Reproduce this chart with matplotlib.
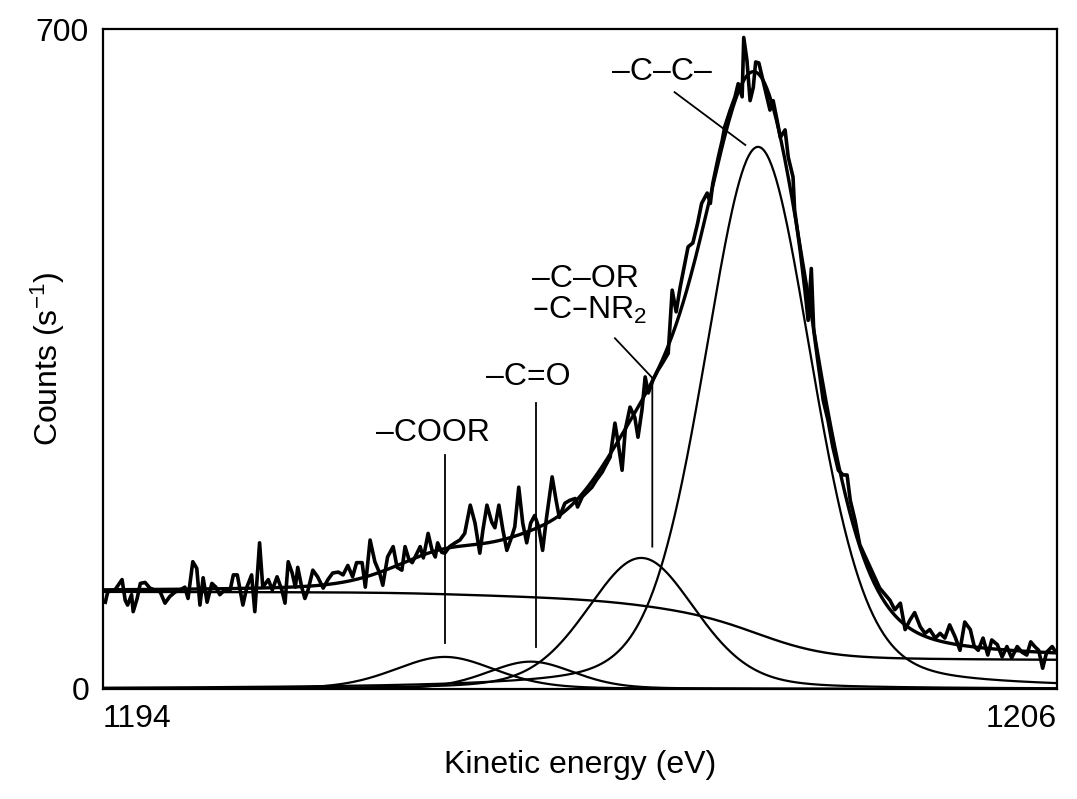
import numpy as np
import matplotlib
matplotlib.use("Agg")
import matplotlib.pyplot as plt

plt.rcParams['font.family'] = ['Liberation Sans', 'DejaVu Sans']
plt.rcParams['mathtext.default'] = 'regular'

energy = [
    1194.03, 1194.06, 1194.15, 1194.24, 1194.28, 1194.31, 1194.36, 1194.38, 1194.43, 1194.47,
    1194.53, 1194.59, 1194.65, 1194.72, 1194.78, 1194.84, 1194.91, 1194.97, 1195.03, 1195.07,
    1195.13, 1195.18, 1195.22, 1195.26, 1195.31, 1195.37, 1195.42, 1195.47, 1195.53, 1195.60,
    1195.64, 1195.69, 1195.76, 1195.81, 1195.87, 1195.91, 1195.97, 1196.01, 1196.08, 1196.13,
    1196.19, 1196.25, 1196.29, 1196.33, 1196.38, 1196.42, 1196.45, 1196.50, 1196.54, 1196.58,
    1196.64, 1196.70, 1196.77, 1196.83, 1196.89, 1196.96, 1197.02, 1197.08, 1197.14, 1197.19,
    1197.26, 1197.30, 1197.36, 1197.42, 1197.48, 1197.52, 1197.58, 1197.65, 1197.70, 1197.76,
    1197.80, 1197.85, 1197.89, 1197.95, 1197.99, 1198.03, 1198.09, 1198.14, 1198.18, 1198.21,
    1198.26, 1198.30, 1198.36, 1198.43, 1198.49, 1198.55, 1198.62, 1198.68, 1198.74, 1198.78,
    1198.83, 1198.89, 1198.93, 1198.98, 1199.03, 1199.08, 1199.14, 1199.18, 1199.23, 1199.28,
    1199.33, 1199.38, 1199.43, 1199.48, 1199.53, 1199.58, 1199.65, 1199.70, 1199.74, 1199.81,
    1199.87, 1199.94, 1199.97, 1200.03, 1200.09, 1200.15, 1200.21, 1200.28, 1200.31, 1200.38,
    1200.44, 1200.48, 1200.53, 1200.57, 1200.63, 1200.69, 1200.73, 1200.78, 1200.82, 1200.86,
    1200.92, 1200.98, 1201.04, 1201.11, 1201.16, 1201.21, 1201.26, 1201.32, 1201.36, 1201.42,
    1201.48, 1201.53, 1201.60, 1201.64, 1201.67, 1201.74, 1201.79, 1201.82, 1201.89, 1201.95,
    1201.99, 1202.04, 1202.06, 1202.10, 1202.14, 1202.18, 1202.21, 1202.25, 1202.30, 1202.35,
    1202.39, 1202.43, 1202.48, 1202.52, 1202.58, 1202.62, 1202.68, 1202.70, 1202.77, 1202.83,
    1202.87, 1202.91, 1202.94, 1202.99, 1203.06, 1203.12, 1203.18, 1203.25, 1203.31, 1203.36,
    1203.40, 1203.46, 1203.52, 1203.58, 1203.65, 1203.71, 1203.77, 1203.84, 1203.90, 1203.96,
    1204.03, 1204.09, 1204.15, 1204.21, 1204.28, 1204.34, 1204.40, 1204.47, 1204.53, 1204.59,
    1204.65, 1204.72, 1204.78, 1204.84, 1204.91, 1204.96, 1205.01, 1205.07, 1205.13, 1205.18,
    1205.25, 1205.31, 1205.37, 1205.43, 1205.50, 1205.56, 1205.62, 1205.67, 1205.72, 1205.77,
    1205.82, 1205.87, 1205.94, 1205.97,
]
counts = [
    92, 103, 105, 116, 94, 89, 100, 82, 96, 112,
    113, 107, 105, 103, 91, 98, 103, 105, 108, 96,
    135, 128, 89, 118, 92, 112, 108, 100, 105, 105,
    121, 121, 89, 108, 121, 82, 155, 108, 116, 105,
    119, 105, 91, 135, 123, 108, 129, 108, 96, 105,
    126, 119, 107, 116, 123, 124, 121, 131, 119, 134,
    134, 108, 158, 135, 123, 110, 140, 151, 129, 126,
    151, 137, 134, 144, 151, 139, 165, 147, 140, 155,
    145, 144, 151, 155, 158, 165, 195, 176, 144, 169,
    195, 177, 171, 195, 169, 147, 161, 172, 214, 176,
    155, 176, 184, 172, 147, 182, 225, 200, 182, 197,
    200, 202, 193, 204, 209, 214, 222, 230, 235, 246,
    282, 261, 232, 275, 299, 288, 267, 296, 331, 314,
    328, 338, 346, 356, 423, 400, 426, 452, 469, 473,
    494, 515, 526, 515, 536, 564, 582, 596, 614, 628,
    642, 628, 691, 667, 624, 638, 665, 664, 646, 628,
    614, 624, 603, 585, 593, 564, 543, 508, 465, 423,
    391, 446, 381, 349, 306, 285, 257, 232, 227, 227,
    200, 179, 153, 142, 129, 118, 107, 100, 94, 84,
    91, 63, 73, 81, 66, 59, 63, 54, 59, 54,
    68, 55, 41, 71, 63, 45, 41, 54, 36, 52,
    47, 34, 45, 33, 45, 39, 36, 50, 45, 41,
    22, 39, 45, 41,
]

# fitted components: centre (eV), height (s^-1), FWHM (eV)
peak_labels = ['–COOR', '–C=O', '–C–OR', '–C–C–']
peak_centres = [1198.30, 1199.38, 1200.77, 1202.24]
peak_heights = [34, 29, 139, 575]
peak_fwhm = [1.5, 1.3, 1.62, 1.6]
lorentz_frac = 0.25

# Shirley background levels at the low- and high-energy ends
bg_low_ke = 103
bg_high_ke = 31


def pseudo_voigt(e, centre, height, fwhm):
    u = (e - centre) / (fwhm / 2)
    gauss = np.exp(-np.log(2) * u ** 2)
    lorentz = 1 / (1 + u ** 2)
    return height * (lorentz_frac * lorentz + (1 - lorentz_frac) * gauss)


e = np.linspace(1194, 1206, 800)
components = [pseudo_voigt(e, c, h, w) for c, h, w in zip(peak_centres, peak_heights, peak_fwhm)]
peak_sum = np.sum(components, axis=0)

# step background: proportional to the peak area lying at higher kinetic energy
area_right = np.cumsum(peak_sum[::-1])[::-1]
background = bg_high_ke + (bg_low_ke - bg_high_ke) * area_right / area_right[0]
envelope = background + peak_sum

fig = plt.figure(figsize=(10.77, 7.99), dpi=100)
ax = fig.add_axes([0.0956, 0.1377, 0.8858, 0.8260])

ax.plot(energy, counts, color='black', lw=2.6, solid_joinstyle='round')
ax.plot(e, envelope, color='black', lw=2.4)
ax.plot(e, background, color='black', lw=1.7)
for comp in components:
    ax.plot(e, comp, color='black', lw=1.6)

ax.set_xlim(1194, 1206)
ax.set_ylim(0, 700)

fs = 23

# peak labels with leader lines
ax.text(1201.03, 654, '–C–C–', fontsize=fs, ha='center', va='center')
ax.plot([1201.19, 1202.08], [633, 577], color='black', lw=1.3)

ax.text(1199.40, 435, '–C–OR', fontsize=fs, ha='left', va='center')
ax.text(1199.40, 402, '–C–NR$_2$', fontsize=fs, ha='left', va='center')
ax.plot([1200.44, 1200.91, 1200.91], [372, 330, 151], color='black', lw=1.3)

ax.text(1199.35, 331, '–C=O', fontsize=fs, ha='center', va='center')
ax.plot([1199.45, 1199.45], [303, 45], color='black', lw=1.3)

ax.text(1198.15, 271, '–COOR', fontsize=fs, ha='center', va='center')
ax.plot([1198.30, 1198.30], [248, 49], color='black', lw=1.3)

ax.set_xticks([1194, 1206])
ax.set_xticklabels(['1194', '1206'])
ax.set_yticks([0, 700])
ax.set_yticklabels(['0', '700'])
xl = ax.get_xticklabels()
xl[0].set_horizontalalignment('left')
xl[1].set_horizontalalignment('right')
ax.tick_params(length=0, labelsize=fs)
ax.tick_params(axis='x', pad=11)
ax.tick_params(axis='y', pad=10)

for s in ax.spines.values():
    s.set_linewidth(1.6)

ax.set_xlabel('Kinetic energy (eV)', fontsize=fs)
ax.set_ylabel('Counts (s$^{-1}$)', fontsize=fs)
ax.yaxis.set_label_coords(-0.038, 0.5)
ax.xaxis.set_label_coords(0.5, -0.092)

fig.savefig('out.png', dpi=100)
